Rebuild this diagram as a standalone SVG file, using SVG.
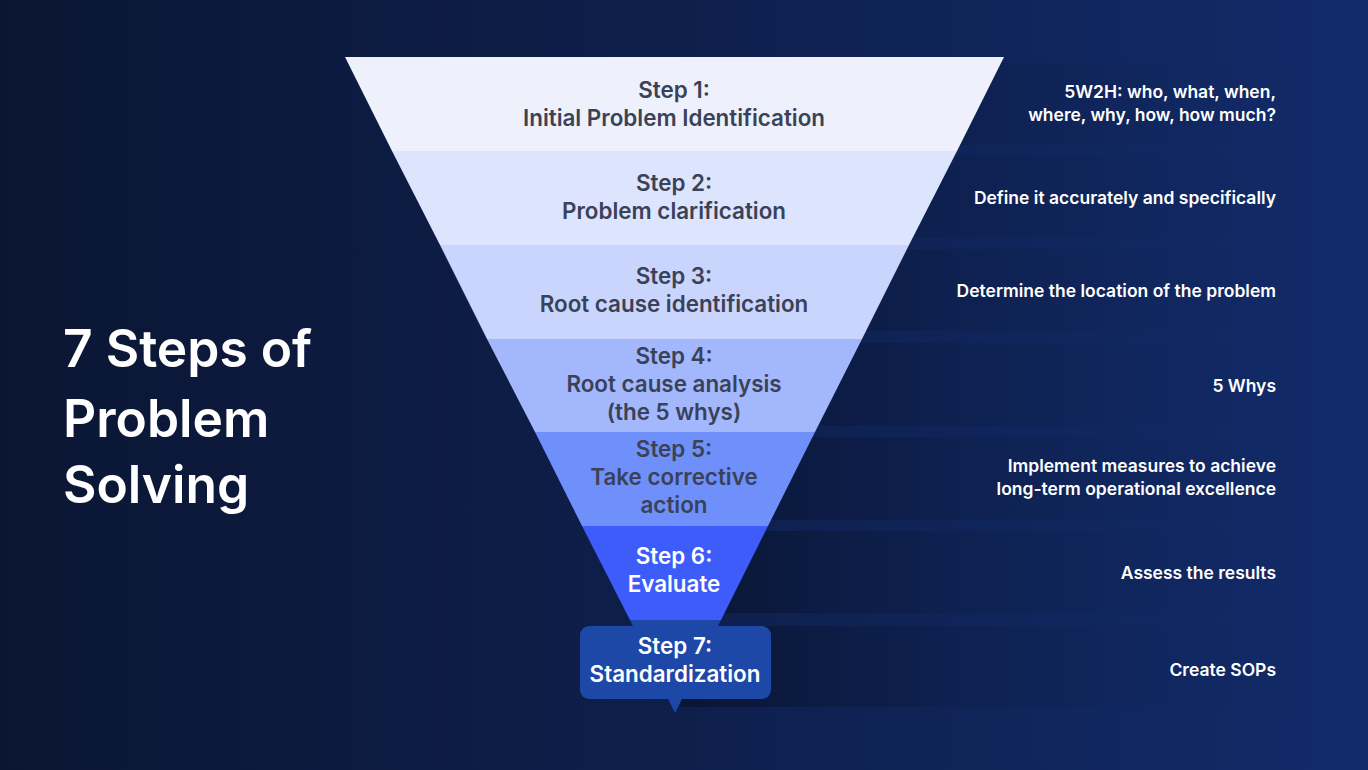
<svg xmlns="http://www.w3.org/2000/svg" width="1368" height="770" viewBox="0 0 1368 770">
<defs>
<linearGradient id="bg" x1="0" y1="0" x2="1" y2="0">
<stop offset="0" stop-color="#0b1633"/>
<stop offset="0.5" stop-color="#0e1f4c"/>
<stop offset="1" stop-color="#122b6a"/>
</linearGradient>
<linearGradient id="row" x1="700" y1="0" x2="1368" y2="0" gradientUnits="userSpaceOnUse">
<stop offset="0" stop-color="#0a1636" stop-opacity="1"/>
<stop offset="0.95" stop-color="#112a68" stop-opacity="0"/>
</linearGradient>
<style>
.step{font-family:"Inter","Liberation Sans",sans-serif;font-weight:600;font-size:22.4px;text-anchor:middle;fill:#3a4257}
.stepw{fill:#ffffff}
.note{font-family:"Inter","Liberation Sans",sans-serif;font-weight:600;font-size:17.5px;text-anchor:end;fill:#ffffff}
.title{font-family:"Inter","Liberation Sans",sans-serif;font-weight:600;font-size:51.5px;fill:#ffffff}
</style>
</defs>
<rect width="1368" height="770" fill="url(#bg)"/>
<g id="rows" fill="url(#row)">
<rect x="690" y="63" width="678" height="82"/>
<rect x="690" y="155" width="678" height="82"/>
<rect x="690" y="249" width="678" height="82"/>
<rect x="690" y="343" width="678" height="83"/>
<rect x="690" y="437" width="678" height="83"/>
<rect x="680" y="531" width="688" height="82"/>
<rect x="680" y="626" width="688" height="81"/>
</g>
<g id="title">
<text class="title" x="63" y="367">7 Steps of</text>
<text class="title" x="63" y="437">Problem</text>
<text class="title" x="63" y="503">Solving</text>
</g>
<g id="step1">
<polygon points="345,57 1004,57 957,151 392,151" fill="#eef1fc"/>
<text class="step" x="674" y="98">Step 1:</text>
<text class="step" x="674" y="126">Initial Problem Identification</text>
</g>
<g id="step2">
<polygon points="392,151 957,151 909,245 440,245" fill="#dde4fd"/>
<text class="step" x="674" y="191">Step 2:</text>
<text class="step" x="674" y="219">Problem clarification</text>
</g>
<g id="step3">
<polygon points="440,245 909,245 862,339 487,339" fill="#cad5fd"/>
<text class="step" x="674" y="284">Step 3:</text>
<text class="step" x="674" y="312">Root cause identification</text>
</g>
<g id="step4">
<polygon points="487,339 862,339 815,432 535,432" fill="#a3b7fd"/>
<text class="step" x="674" y="364">Step 4:</text>
<text class="step" x="674" y="392">Root cause analysis</text>
<text class="step" x="674" y="420">(the 5 whys)</text>
</g>
<g id="step5">
<polygon points="535,432 815,432 768,526 582,526" fill="#6f8ffb"/>
<text class="step" x="674" y="457">Step 5:</text>
<text class="step" x="674" y="485">Take corrective</text>
<text class="step" x="674" y="513">action</text>
</g>
<g id="step6">
<polygon points="582,526 768,526 721,620 630,620" fill="#3d5cfa"/>
<text class="step stepw" x="674" y="564">Step 6:</text>
<text class="step stepw" x="674" y="592">Evaluate</text>
</g>
<g id="step7">
<polygon points="630,620 721,620 675,713" fill="#1e48a8"/>
<rect x="580" y="626" width="191" height="73" rx="9" fill="#1e48a8"/>
<text class="step stepw" x="675" y="654">Step 7:</text>
<text class="step stepw" x="675" y="682">Standardization</text>
</g>
<g id="notes">
<text class="note" x="1276" y="98">5W2H: who, what, when,</text>
<text class="note" x="1276" y="121">where, why, how, how much?</text>
<text class="note" x="1276" y="204">Define it accurately and specifically</text>
<text class="note" x="1276" y="297">Determine the location of the problem</text>
<text class="note" x="1276" y="392">5 Whys</text>
<text class="note" x="1276" y="472">Implement measures to achieve</text>
<text class="note" x="1276" y="495">long-term operational excellence</text>
<text class="note" x="1276" y="579">Assess the results</text>
<text class="note" x="1276" y="676">Create SOPs</text>
</g>
</svg>
